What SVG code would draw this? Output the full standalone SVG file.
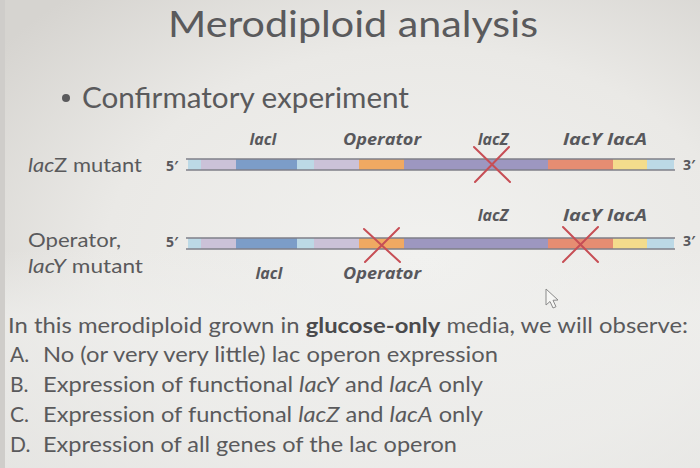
<svg xmlns="http://www.w3.org/2000/svg" width="700" height="468" viewBox="0 0 700 468">
  <defs>
    <radialGradient id="bg" cx="0.6" cy="0.55" r="0.75">
      <stop offset="0" stop-color="#f1f1ef"/>
      <stop offset="0.6" stop-color="#eae9e6"/>
      <stop offset="1" stop-color="#d6d4d0"/>
    </radialGradient>
    <linearGradient id="low" x1="0" y1="0" x2="0" y2="1">
      <stop offset="0" stop-color="#efefed" stop-opacity="0"/>
      <stop offset="0.3" stop-color="#efefed" stop-opacity="0.7"/>
      <stop offset="1" stop-color="#eceCEA" stop-opacity="0.7"/>
    </linearGradient>
    <style>
      .slide{font-family:Lato,"Open Sans","Liberation Sans",sans-serif;fill:#5a5a5c}
      .title{font-size:36px}
      .sub{font-size:28px}
      .left{font-size:20px}
      .q{font-size:21px}
      .gl{font-family:"Open Sans","Liberation Sans",sans-serif;font-size:16px;font-weight:bold;font-style:italic;fill:#58585c}
      .end{font-family:"Open Sans","Liberation Sans",sans-serif;font-size:14px;font-weight:bold;fill:#58585c}
      .edge{stroke:#7f7f88;stroke-width:1.3}
      .x{stroke:#c74e55;stroke-width:2;stroke-linecap:round}
      .lb{fill:#bcd9e6}
      .lv{fill:#cbc2d8}
      .bl{fill:#7c9dc8}
      .or{fill:#f0a962}
      .pu{fill:#9d97c0}
      .sa{fill:#e68d72}
      .ye{fill:#f4dc8c}
    </style>
    <g id="strand">
      <rect class="lb" x="188" y="0" width="13" height="11"/>
      <rect class="lv" x="201" y="0" width="35" height="11"/>
      <rect class="bl" x="236" y="0" width="61" height="11"/>
      <rect class="lb" x="297" y="0" width="17" height="11"/>
      <rect class="lv" x="314" y="0" width="45" height="11"/>
      <rect class="or" x="359" y="0" width="45" height="11"/>
      <rect class="pu" x="404" y="0" width="144" height="11"/>
      <rect class="sa" x="548" y="0" width="65" height="11"/>
      <rect class="ye" x="613" y="0" width="34" height="11"/>
      <rect class="lb" x="647" y="0" width="27" height="11"/>
      <line class="edge" x1="186" y1="0" x2="675" y2="0"/>
      <line class="edge" x1="186" y1="11" x2="675" y2="11"/>
    </g>
  </defs>

  <rect x="0" y="0" width="700" height="468" fill="url(#bg)"/>
  <rect x="0" y="250" width="700" height="218" fill="url(#low)"/>
  <rect x="0" y="0" width="5" height="468" fill="#cfcdca"/>

  <g id="title">
    <text class="slide title" x="353" y="37" text-anchor="middle" textLength="370" lengthAdjust="spacingAndGlyphs">Merodiploid analysis</text>
  </g>

  <g id="subtitle">
    <circle cx="66" cy="98" r="4" fill="#5a5a5c"/>
    <text class="slide sub" x="82" y="108" textLength="327" lengthAdjust="spacingAndGlyphs">Confirmatory experiment</text>
  </g>

  <g id="strand-lacZ-mutant">
    <text class="slide left" x="28" y="172" textLength="114" lengthAdjust="spacingAndGlyphs"><tspan font-style="italic">lac</tspan>Z mutant</text>
    <text class="end" x="166" y="171">5′</text>
    <use href="#strand" y="159"/>
    <text class="end" x="683" y="170">3′</text>
    <text class="gl" x="263" y="145" text-anchor="middle">lacI</text>
    <text class="gl" x="382" y="145" text-anchor="middle" textLength="78" lengthAdjust="spacingAndGlyphs">Operator</text>
    <text class="gl" x="493" y="145" text-anchor="middle">lacZ</text>
    <text class="gl" x="605" y="145" text-anchor="middle" textLength="84" lengthAdjust="spacingAndGlyphs">lacY  lacA</text>
    <line class="x" x1="474" y1="147" x2="510" y2="182"/>
    <line class="x" x1="509" y1="147" x2="475" y2="182"/>
  </g>

  <g id="strand-operator-lacY-mutant">
    <text class="slide left" x="28" y="247" textLength="93" lengthAdjust="spacingAndGlyphs">Operator,</text>
    <text class="slide left" x="28" y="273" textLength="115" lengthAdjust="spacingAndGlyphs"><tspan font-style="italic">lacY</tspan> mutant</text>
    <text class="end" x="166" y="247">5′</text>
    <use href="#strand" y="238"/>
    <text class="end" x="683" y="246">3′</text>
    <text class="gl" x="493" y="221" text-anchor="middle">lacZ</text>
    <text class="gl" x="605" y="221" text-anchor="middle" textLength="84" lengthAdjust="spacingAndGlyphs">lacY  lacA</text>
    <text class="gl" x="269" y="279" text-anchor="middle">lacI</text>
    <text class="gl" x="382" y="279" text-anchor="middle" textLength="78" lengthAdjust="spacingAndGlyphs">Operator</text>
    <line class="x" x1="364" y1="229" x2="400" y2="262"/>
    <line class="x" x1="399" y1="228" x2="365" y2="262"/>
    <line class="x" x1="563" y1="227" x2="598" y2="262"/>
    <line class="x" x1="598" y1="227" x2="563" y2="262"/>
  </g>

  <g id="cursor">
    <path d="M546,289 L546,305 L550,301.5 L553,308 L556,306.7 L553,300.3 L558,300 Z" fill="#f6f6f4" stroke="#8a8a8a" stroke-width="1" stroke-linejoin="round"/>
  </g>

  <g id="question">
    <text class="slide q" x="8" y="333" textLength="680" lengthAdjust="spacingAndGlyphs">In this merodiploid grown in <tspan font-weight="bold" fill="#4a4a4c">glucose-only</tspan> media, we will observe:</text>
    <text class="slide q" x="10" y="362">A.</text>
    <text class="slide q" x="43" y="362" textLength="455" lengthAdjust="spacingAndGlyphs">No (or very very little) lac operon expression</text>
    <text class="slide q" x="10" y="392">B.</text>
    <text class="slide q" x="43" y="392" textLength="440" lengthAdjust="spacingAndGlyphs">Expression of functional <tspan font-style="italic">lacY</tspan> and <tspan font-style="italic">lacA</tspan> only</text>
    <text class="slide q" x="10" y="422">C.</text>
    <text class="slide q" x="43" y="422" textLength="440" lengthAdjust="spacingAndGlyphs">Expression of functional <tspan font-style="italic">lacZ</tspan> and <tspan font-style="italic">lacA</tspan> only</text>
    <text class="slide q" x="10" y="452">D.</text>
    <text class="slide q" x="43" y="452" textLength="414" lengthAdjust="spacingAndGlyphs">Expression of all genes of the lac operon</text>
  </g>
</svg>
